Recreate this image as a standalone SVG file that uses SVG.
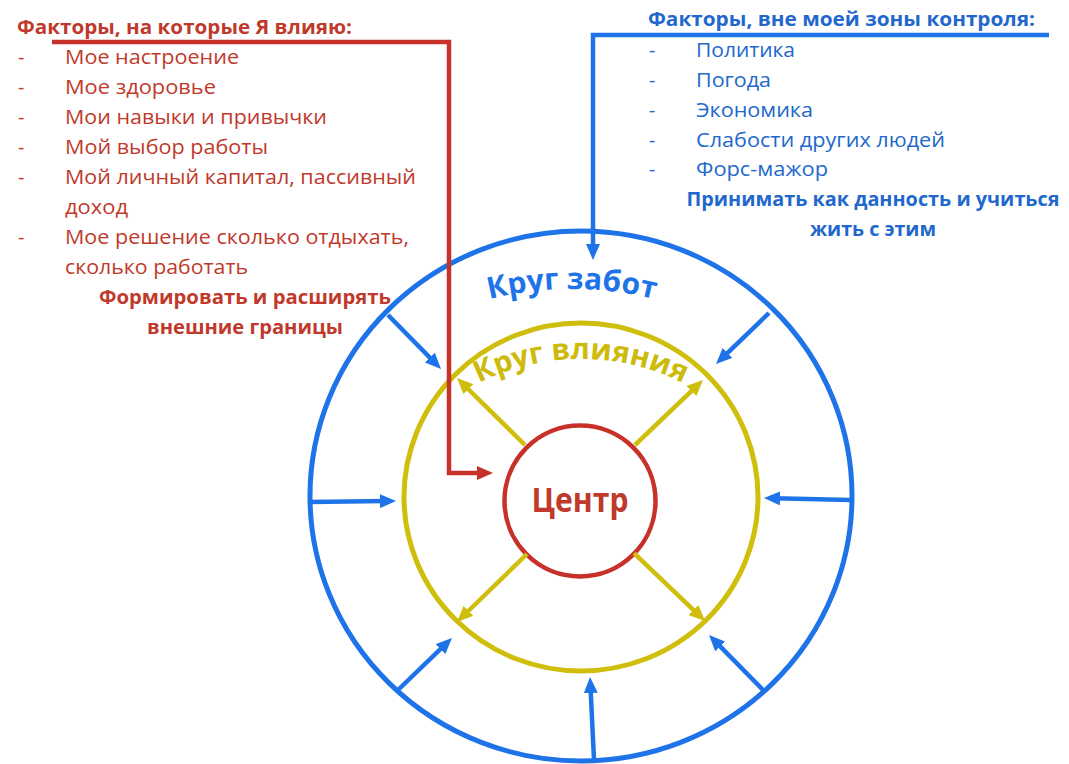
<svg xmlns="http://www.w3.org/2000/svg" width="1069" height="764" viewBox="0 0 1069 764">
<style>
text{font-family:"Open Sans","Noto Sans",sans-serif;}
.r{fill:#C0392B;font-size:19.5px;}
.b{fill:#2268CC;font-size:19.5px;}
.bold{font-weight:bold;}
.ln{fill:none;stroke-width:4.5;stroke-linejoin:miter;}
.blue{stroke:#1E73E8;}
.yel{stroke:#D0BE0C;}
.red{stroke:#C8302A;}
</style>
<defs>
<marker id="mb" viewBox="0 0 16 14" refX="6" refY="7" markerWidth="16" markerHeight="14" orient="auto" markerUnits="userSpaceOnUse"><path d="M0,0 L16,7 L0,14 z" fill="#1E73E8"/></marker>
<marker id="my" viewBox="0 0 16 14" refX="6" refY="7" markerWidth="16" markerHeight="14" orient="auto" markerUnits="userSpaceOnUse"><path d="M0,0 L16,7 L0,14 z" fill="#D0BE0C"/></marker>
<marker id="mr" viewBox="0 0 16 14" refX="6" refY="7" markerWidth="16" markerHeight="14" orient="auto" markerUnits="userSpaceOnUse"><path d="M0,0 L16,7 L0,14 z" fill="#C8302A"/></marker>
<path id="arcZ" d="M 232 629 A 340 340 0 0 1 912 629"/>
<path id="arcV" d="M 352 588 A 229 229 0 0 1 810 588"/>
</defs>
<rect width="1069" height="764" fill="#ffffff"/>

<g id="circle-concern">
<ellipse cx="581" cy="496" rx="271" ry="265" fill="none" stroke="#1E73E8" stroke-width="5"/>
<text font-size="30" font-weight="bold" fill="#1E73E8"><textPath href="#arcZ" startOffset="50%" text-anchor="middle">Круг забот</textPath></text>
</g>
<g id="circle-influence">
<ellipse cx="581" cy="497" rx="177" ry="174" fill="none" stroke="#D0BE0C" stroke-width="5"/>
<text font-size="29.5" font-weight="bold" fill="#CDBA0A"><textPath href="#arcV" startOffset="50%" text-anchor="middle">Круг влияния</textPath></text>
</g>
<g id="center">
<circle cx="580" cy="501" r="75.5" fill="none" stroke="#C8302A" stroke-width="4.5"/>
<text x="580" y="512" font-size="34" font-weight="bold" fill="#C0392B" text-anchor="middle" textLength="97" lengthAdjust="spacingAndGlyphs">Центр</text>
</g>

<g id="factors-influence">
<text class="r bold" x="17" y="34" textLength="335" lengthAdjust="spacingAndGlyphs">Факторы, на которые Я влияю:</text>
<text class="r" x="18" y="64">-</text><text class="r" x="65" y="64" textLength="174" lengthAdjust="spacingAndGlyphs">Мое настроение</text>
<text class="r" x="18" y="94">-</text><text class="r" x="65" y="94" textLength="151" lengthAdjust="spacingAndGlyphs">Мое здоровье</text>
<text class="r" x="18" y="124">-</text><text class="r" x="65" y="124" textLength="262" lengthAdjust="spacingAndGlyphs">Мои навыки и привычки</text>
<text class="r" x="18" y="154">-</text><text class="r" x="65" y="154" textLength="203" lengthAdjust="spacingAndGlyphs">Мой выбор работы</text>
<text class="r" x="18" y="184">-</text><text class="r" x="65" y="184" textLength="351" lengthAdjust="spacingAndGlyphs">Мой личный капитал, пассивный</text>
<text class="r" x="65" y="214" textLength="63" lengthAdjust="spacingAndGlyphs">доход</text>
<text class="r" x="18" y="244">-</text><text class="r" x="65" y="244" textLength="344" lengthAdjust="spacingAndGlyphs">Мое решение сколько отдыхать,</text>
<text class="r" x="65" y="274" textLength="183" lengthAdjust="spacingAndGlyphs">сколько работать</text>
<text class="r bold" x="245" y="304" text-anchor="middle" textLength="292" lengthAdjust="spacingAndGlyphs">Формировать и расширять</text>
<text class="r bold" x="245" y="334" text-anchor="middle" textLength="196" lengthAdjust="spacingAndGlyphs">внешние границы</text>
</g>

<g id="factors-outside">
<text class="b bold" x="648" y="26" textLength="387" lengthAdjust="spacingAndGlyphs">Факторы, вне моей зоны контроля:</text>
<text class="b" x="649" y="57">-</text><text class="b" x="696" y="57" textLength="99" lengthAdjust="spacingAndGlyphs">Политика</text>
<text class="b" x="649" y="87">-</text><text class="b" x="696" y="87" textLength="75" lengthAdjust="spacingAndGlyphs">Погода</text>
<text class="b" x="649" y="117">-</text><text class="b" x="696" y="117" textLength="117" lengthAdjust="spacingAndGlyphs">Экономика</text>
<text class="b" x="649" y="147">-</text><text class="b" x="696" y="147" textLength="249" lengthAdjust="spacingAndGlyphs">Слабости других людей</text>
<text class="b" x="649" y="176">-</text><text class="b" x="696" y="176" textLength="132" lengthAdjust="spacingAndGlyphs">Форс-мажор</text>
<text class="b bold" x="873" y="206" text-anchor="middle" textLength="373" lengthAdjust="spacingAndGlyphs">Принимать как данность и учиться</text>
<text class="b bold" x="873" y="236" text-anchor="middle" textLength="126" lengthAdjust="spacingAndGlyphs">жить с этим</text>
</g>

<g id="connectors">
<path class="ln red" d="M52,42 H449 V473 H483" marker-end="url(#mr)"/>
<path class="ln blue" d="M1049,35 H593 V250" marker-end="url(#mb)"/>
<path class="ln blue" d="M388,315 L434,361.9" marker-end="url(#mb)"/>
<path class="ln blue" d="M769,313 L723.2,357.1" marker-end="url(#mb)"/>
<path class="ln blue" d="M310,502 L386,501.1" marker-end="url(#mb)"/>
<path class="ln blue" d="M851,500 L774,498.2" marker-end="url(#mb)"/>
<path class="ln blue" d="M398,690 L444.8,644.9" marker-end="url(#mb)"/>
<path class="ln blue" d="M764,691 L716,642.1" marker-end="url(#mb)"/>
<path class="ln blue" d="M594,760 L590.5,687" marker-end="url(#mb)"/>
<path class="ln yel" d="M525,445 L464.1,385" marker-end="url(#my)"/>
<path class="ln yel" d="M635,445 L695.8,386.9" marker-end="url(#my)"/>
<path class="ln yel" d="M527,554 L464.2,615" marker-end="url(#my)"/>
<path class="ln yel" d="M634,553 L697.8,614.1" marker-end="url(#my)"/>
</g>
</svg>
